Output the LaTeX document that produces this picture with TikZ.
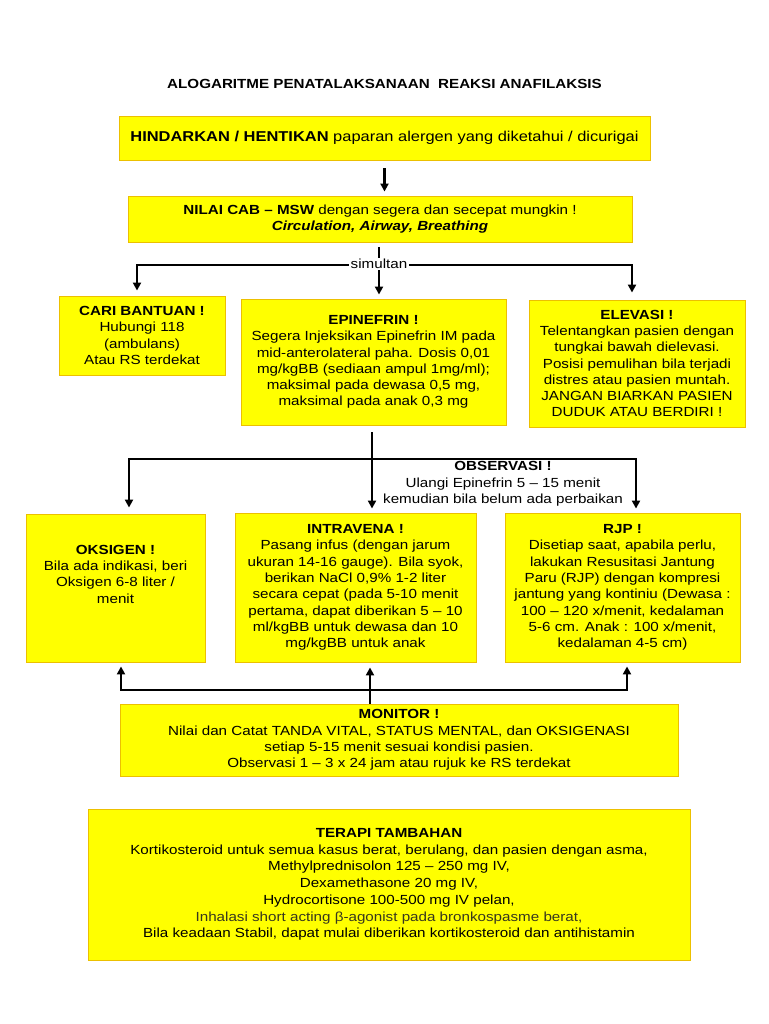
\documentclass[tikz,border=0pt]{standalone}
\usepackage{fontspec}
\setmainfont[FakeStretch=1.15]{Liberation Sans}
\usetikzlibrary{arrows.meta}
\definecolor{boxfill}{RGB}{255,255,0}
\definecolor{boxline}{RGB}{236,192,0}
\definecolor{inhal}{RGB}{55,55,30}
\tikzset{
  box/.style={draw=boxline, fill=boxfill, line width=0.9pt, inner sep=0pt, align=center,
    font=\fontsize{13.2}{16.3}\selectfont},
  txt/.style={inner sep=0pt, align=center, font=\fontsize{13.2}{16.3}\selectfont},
  link/.style={line width=2.6pt},
  arr/.style={link, -{Triangle[length=8pt,width=8pt]}},
}
\begin{document}
\begin{tikzpicture}[x=1pt,y=-1pt]
\useasboundingbox[fill=white] (0,0) rectangle (768,1024);

% title
\node[txt, font=\bfseries\fontsize{13.2}{16}\selectfont] (title) at (384.5,84)
  {ALOGARITME PENATALAKSANAAN\ \ REAKSI ANAFILAKSIS};

% boxes
\node[box, minimum width=531pt, minimum height=44pt, font=\fontsize{14.3}{17}\selectfont] (hind) at (384.5,138)
  {\textbf{HINDARKAN / HENTIKAN} paparan alergen yang diketahui / dicurigai};
\node[box, minimum width=504pt, minimum height=46pt] (nilai) at (380,219)
  {\textbf{NILAI CAB – MSW} dengan segera dan secepat mungkin !\\\textbf{\textit{Circulation, Airway, Breathing}}};
\node[box, minimum width=166pt, minimum height=79pt] (cari) at (142,335.5)
  {\textbf{CARI BANTUAN !}\\Hubungi 118\\(ambulans)\\Atau RS terdekat};
\node[box, minimum width=265pt, minimum height=126pt] (epi) at (373.5,362)
  {\textbf{EPINEFRIN !}\\Segera Injeksikan Epinefrin IM pada\\mid-anterolateral paha. Dosis 0,01\\mg/kgBB (sediaan ampul 1mg/ml);\\maksimal pada dewasa 0,5 mg,\\maksimal pada anak 0,3 mg};
\node[box, minimum width=216pt, minimum height=127pt] (elev) at (637,363.5)
  {\textbf{ELEVASI !}\\Telentangkan pasien dengan\\tungkai bawah dielevasi.\\Posisi pemulihan bila terjadi\\distres atau pasien muntah.\\JANGAN BIARKAN PASIEN\\DUDUK ATAU BERDIRI !};

\node[box, minimum width=179pt, minimum height=148pt] (oks) at (115.5,588) {};
\node[txt] (okstext) at ([yshift=14pt]oks.center)
  {\textbf{OKSIGEN !}\\Bila ada indikasi, beri\\Oksigen 6-8 liter /\\menit};
\node[box, minimum width=241pt, minimum height=149pt] (intra) at (355.5,587.5)
  {\textbf{INTRAVENA !}\\Pasang infus (dengan jarum\\ukuran 14-16 gauge). Bila syok,\\berikan NaCl 0,9\% 1-2 liter\\secara cepat (pada 5-10 menit\\pertama, dapat diberikan 5 – 10\\ml/kgBB untuk dewasa dan 10\\mg/kgBB untuk anak};
\node[box, minimum width=235pt, minimum height=149pt] (rjp) at (622.5,587.5)
  {\textbf{RJP !}\\Disetiap saat, apabila perlu,\\lakukan Resusitasi Jantung\\Paru (RJP) dengan kompresi\\jantung yang kontiniu (Dewasa :\\100 – 120 x/menit, kedalaman\\5-6 cm. Anak : 100 x/menit,\\kedalaman 4-5 cm)};

\node[box, minimum width=558pt, minimum height=72pt] (monbox) at (399,740)
  {\textbf{MONITOR !}\\Nilai dan Catat TANDA VITAL, STATUS MENTAL, dan OKSIGENASI\\setiap 5-15 menit sesuai kondisi pasien.\\Observasi 1 – 3 x 24 jam atau rujuk ke RS terdekat};

\node[box, minimum width=602pt, minimum height=151pt, font=\fontsize{13.2}{16.7}\selectfont] (terapi) at (389,884.5)
  {\textbf{TERAPI TAMBAHAN}\\Kortikosteroid untuk semua kasus berat, berulang, dan pasien dengan asma,\\Methylprednisolon 125 – 250 mg IV,\\Dexamethasone 20 mg IV,\\Hydrocortisone 100-500 mg IV pelan,\\{\color{inhal}Inhalasi short acting β-agonist pada bronkospasme berat,}\\Bila keadaan Stabil, dapat mulai diberikan kortikosteroid dan antihistamin};

% connectors: top
\draw[arr, shorten <=8pt, shorten >=4pt] (hind.south) -- (nilai.north -| hind.south);

\coordinate (sim) at (379,265);
\coordinate (simL) at (137,265);
\coordinate (simR) at (632,265);
\draw[link, shorten <=5pt] (nilai.south -| sim) -- (sim);
\draw[arr, shorten >=5pt] (sim) -| (cari.north -| simL);
\draw[arr, shorten >=4pt] (sim) -- (epi.north -| sim);
\draw[arr, shorten >=7pt] (sim) -| (elev.north -| simR);
\node[txt, fill=white, inner xsep=2pt, inner ysep=1pt] (simlbl) at (379,264) {simultan};

% connectors: observasi
\coordinate (obs) at (372,459);
\coordinate (obsL) at (129,459);
\coordinate (obsR) at (636,459);
\draw[link, shorten <=7pt] (epi.south -| obs) -- (obs);
\draw[arr, shorten >=6pt] (obs) -| (oks.north -| obsL);
\draw[arr, shorten >=4pt] (obs) -- (intra.north -| obs);
\draw[arr, shorten >=4pt] (obs) -| (rjp.north -| obsR);
\node[txt] (obstext) at (503,484)
  {\textbf{OBSERVASI !}\\Ulangi Epinefrin 5 – 15 menit\\kemudian bila belum ada perbaikan};

% connectors: monitor
\coordinate (mj) at (370,690);
\coordinate (monL) at (121,690);
\coordinate (monR) at (627,690);
\draw[arr, shorten >=5pt] (monbox.north -| mj) -- (intra.south -| mj);
\draw[arr, shorten >=4pt] (mj) -| (oks.south -| monL);
\draw[arr, shorten >=4pt] (mj) -| (rjp.south -| monR);
\end{tikzpicture}
\end{document}
